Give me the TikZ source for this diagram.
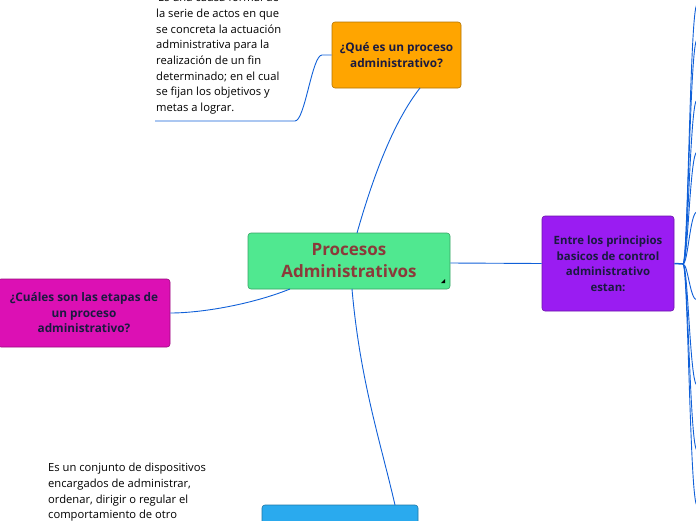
\documentclass[tikz,border=0pt]{standalone}
\usepackage{fontspec}
\setmainfont{Open Sans}
\definecolor{ln}{HTML}{1060D8}
\definecolor{tx}{HTML}{1A1A40}
\begin{document}
\begin{tikzpicture}[x=1pt,y=-1pt,
 box/.style={draw=#1!70!black,rounded corners=3pt,line width=0.6pt,fill=#1,align=center,font=\bfseries\fontsize{11.8}{15.5}\selectfont,text=tx,inner sep=2pt},
 conn/.style={draw=ln,line width=0.9pt},
 para/.style={align=left,anchor=north west,font=\fontsize{11.2}{15.7}\selectfont,inner sep=0pt,text=black}]
\useasboundingbox (0,0) rectangle (696,520);
\definecolor{cg}{HTML}{50E890}\definecolor{co}{HTML}{FFA500}\definecolor{cp}{HTML}{9A1CF2}
\definecolor{cm}{HTML}{DC10B4}\definecolor{cb}{HTML}{2AAAEE}\definecolor{ct}{HTML}{8B3A3A}
\node[box=cg,minimum width=202pt,minimum height=56pt,font=\bfseries\fontsize{17}{22}\selectfont,text=ct] (c) at (349,261) {Procesos\\Administrativos};
\fill[black] (441,283) -- (445,283) -- (445,279) -- cycle;
\node[box=co,minimum width=129pt,minimum height=66pt] (o) at (396.5,55) {¿Qué es un proceso\\administrativo?};
\node[box=cp,minimum width=132pt,minimum height=95pt,font=\bfseries\fontsize{11.4}{15.5}\selectfont] (p) at (608,263.5) {Entre los principios\\basicos de control\\administrativo\\estan:};
\node[box=cm,minimum width=172pt,minimum height=68pt] (m) at (84,313) {¿Cuáles son las etapas de\\un proceso\\administrativo?};
\node[box=cb,minimum width=156pt,minimum height=40pt] (b) at (340,525) {};
\node[para] (t1) at (156,-7) {\,Es una causa formal de\\la serie de actos en que\\se concreta la actuación\\administrativa para la\\realización de un fin\\determinado; en el cual\\se fijan los objetivos y\\metas a lograr.};
\node[para] (t2) at (48,463) {Es un conjunto de dispositivos\\encargados de administrar,\\ordenar, dirigir o regular el\\comportamiento de otro};
\coordinate (u1) at (155,121);
\coordinate (hub) at (683,264);
\draw[conn] (u1) -- (295,121) .. controls (305,121) and (312,55) .. (322,55) -- (o.west);
\draw[conn] (357,233) .. controls (375,170) and (395,120) .. (420,88);
\draw[conn] (c.east |- 0,263) -- (p.west);
\draw[conn] (290,289) .. controls (250,305) and (200,313) .. (m.east);
\draw[conn] (352,289) .. controls (360,380) and (380,440) .. (395,505);
\draw[conn,line width=1.5pt] (p.east) -- (hub);
\foreach \y in {5,40,100,152,212,300,385,450,505}
  \draw[conn] (hub) .. controls (688,264) and (690,\y) .. (697,\y);
\end{tikzpicture}
\end{document}
